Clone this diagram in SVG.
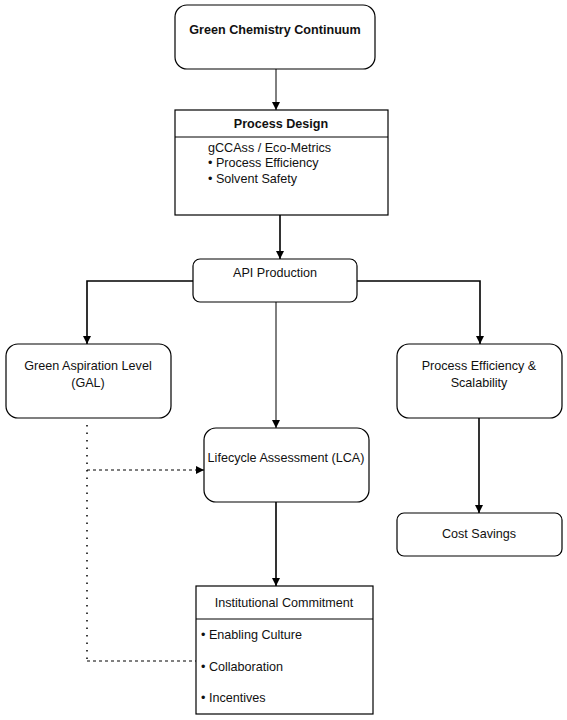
<svg xmlns="http://www.w3.org/2000/svg" width="567" height="720" viewBox="0 0 567 720">
<defs>
<style>
.box{fill:#fff;stroke:#000;stroke-width:1.2}
.t{font-family:"Liberation Sans",Arial,sans-serif;font-size:12.6px;fill:#111}
.c{text-anchor:middle}
.b{font-weight:bold;font-size:12.6px}
.ln{fill:none;stroke:#000;stroke-width:1}
.thk{stroke-width:1.6}
.dash{fill:none;stroke:#000;stroke-width:1;stroke-dasharray:3 3}
.dot{fill:none;stroke:#000;stroke-width:1.5;stroke-dasharray:1.5 6}
</style>
<marker id="ah" viewBox="0 0 10 10" refX="10" refY="5" markerWidth="8" markerHeight="8" markerUnits="userSpaceOnUse" orient="auto">
<path d="M0,0 L10,5 L0,10 z" fill="#000"/>
</marker>
</defs>
<rect width="567" height="720" fill="#fff"/>
<g id="connectors">
<path class="ln" d="M276,69 V110" marker-end="url(#ah)"/>
<path class="ln thk" d="M280,215 V259" marker-end="url(#ah)"/>
<path class="ln thk" d="M193,281 H87 V344" marker-end="url(#ah)"/>
<path class="ln thk" d="M357,281 H480 V344" marker-end="url(#ah)"/>
<path class="ln" d="M276,302 V428" marker-end="url(#ah)"/>
<path class="ln thk" d="M276,502 V586" marker-end="url(#ah)"/>
<path class="ln thk" d="M479,418 V513" marker-end="url(#ah)"/>
<path class="dot" d="M87,425 V661"/>
<path class="dash" d="M87,661 H196"/>
<path class="dash" d="M87,470 H204" marker-end="url(#ah)"/>
</g>
<g id="gcc">
<rect class="box" x="175" y="5" width="200" height="64" rx="12"/>
<text class="t c b" x="275" y="34">Green Chemistry Continuum</text>
</g>
<g id="process-design">
<rect class="box" x="175" y="110" width="213" height="105"/>
<line class="ln" x1="175" y1="137" x2="388" y2="137"/>
<text class="t c b" x="281" y="128">Process Design</text>
<text class="t" x="208" y="152">gCCAss / Eco-Metrics</text>
<text class="t" x="208" y="167">• Process Efficiency</text>
<text class="t" x="208" y="183">• Solvent Safety</text>
</g>
<g id="api">
<rect class="box" x="193" y="259" width="164" height="43" rx="7"/>
<text class="t c" x="275" y="277">API Production</text>
</g>
<g id="gal">
<rect class="box" x="6" y="344" width="165" height="74" rx="12"/>
<text class="t c" x="88" y="370">Green Aspiration Level</text>
<text class="t c" x="88" y="387">(GAL)</text>
</g>
<g id="pes">
<rect class="box" x="397" y="344" width="165" height="74" rx="12"/>
<text class="t c" x="479" y="370">Process Efficiency &amp;</text>
<text class="t c" x="479" y="387">Scalability</text>
</g>
<g id="lca">
<rect class="box" x="204" y="428" width="165" height="74" rx="12"/>
<text class="t c" x="286" y="462">Lifecycle Assessment (LCA)</text>
</g>
<g id="cost">
<rect class="box" x="397" y="513" width="165" height="43" rx="7"/>
<text class="t c" x="479" y="538">Cost Savings</text>
</g>
<g id="ic">
<rect class="box" x="196" y="586" width="177" height="128"/>
<line class="ln" x1="196" y1="619" x2="373" y2="619"/>
<text class="t c" x="284" y="607">Institutional Commitment</text>
<text class="t" x="201" y="639">• Enabling Culture</text>
<text class="t" x="201" y="671">• Collaboration</text>
<text class="t" x="201" y="702">• Incentives</text>
</g>
</svg>
